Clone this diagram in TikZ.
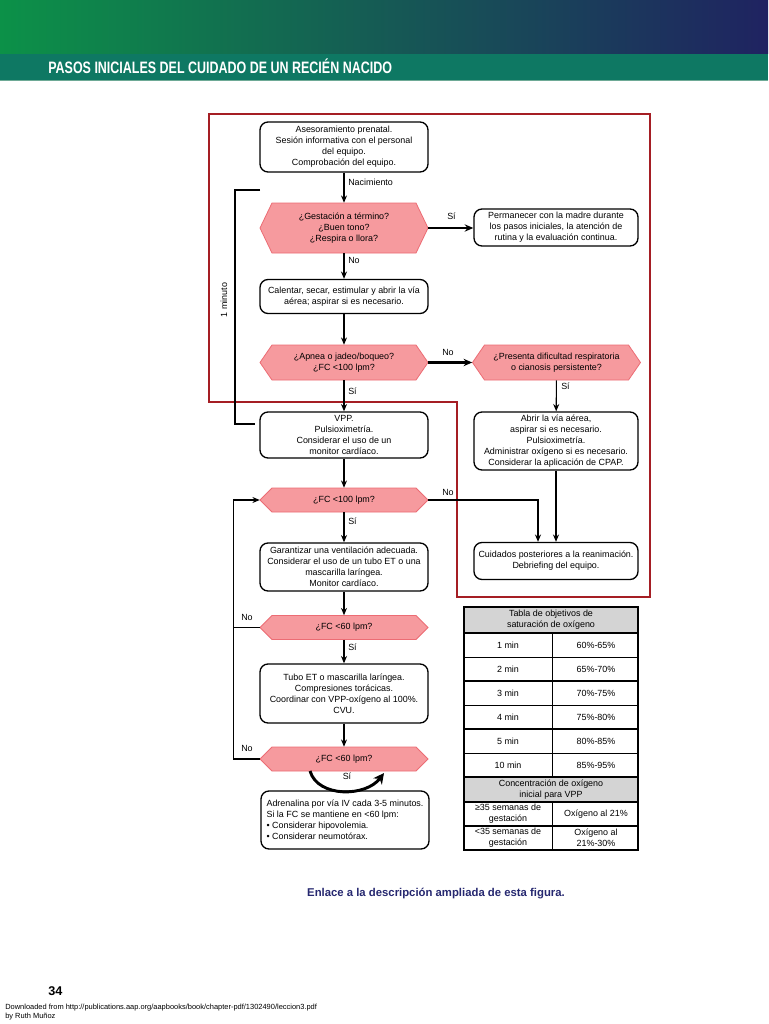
\documentclass[tikz,border=0pt]{standalone}
\usepackage{fontspec}
\setmainfont{Liberation Sans}
\usetikzlibrary{arrows.meta,calc}
\definecolor{hgL}{RGB}{12,145,72}
\definecolor{hgM}{RGB}{28,100,92}
\definecolor{hgR}{RGB}{31,35,97}
\definecolor{tealband}{RGB}{14,120,99}
\definecolor{teallight}{RGB}{110,170,150}
\definecolor{frame}{RGB}{165,30,36}
\definecolor{hexfill}{RGB}{246,154,158}
\definecolor{hexline}{RGB}{236,108,116}
\definecolor{tgray}{RGB}{212,212,212}
\definecolor{navy}{RGB}{38,40,112}
\newcommand{\ff}{\fontsize{6.7}{8.25}\selectfont}
\newcommand{\hexa}[6]{%
  \filldraw[fill=hexfill, draw=hexline, line width=0.6pt]
    (#2-#4/2,#3) -- (#2-#4/2+12,#3-#5/2) -- (#2+#4/2-12,#3-#5/2) -- (#2+#4/2,#3)
    -- (#2+#4/2-12,#3+#5/2) -- (#2-#4/2+12,#3+#5/2) -- cycle;
  \node[hexlabel, minimum width=#4*0.75pt, minimum height=#5*0.75pt] (#1) at (#2,#3) {#6};}
\begin{document}
\begin{tikzpicture}[x=0.75pt,y=-0.75pt,
  box/.style={draw, rounded corners=6pt, line width=1pt, align=center, font=\ff, inner sep=1pt},
  hexlabel/.style={draw=none, align=center, font=\ff, inner sep=0pt},
  arr/.style={line width=0.8pt, -{Stealth[length=5.5pt,width=4.5pt]}},
  thickarr/.style={line width=1.7pt, -{Stealth[length=6.5pt,width=5.5pt]}},
  plain/.style={line width=0.8pt},
  lbl/.style={font=\ff, inner sep=0pt},
  tcell/.style={font=\ff, align=center, inner sep=0pt}]
\useasboundingbox (0,0) rectangle (768,1024);
\fill[white] (0,0) rectangle (768,1024);
% header
\shade[left color=hgL, middle color=hgM, right color=hgR] (0,0) rectangle (768,54);
\fill[tealband] (0,54) rectangle (768,80);
\fill[teallight] (0,80) rectangle (768,81.5);
\node[anchor=base west, text=white, inner sep=0pt, font=\fontsize{12.4}{14}\selectfont\bfseries] (title) at (48,74) {\scalebox{0.755}[1]{PASOS INICIALES DEL CUIDADO DE UN RECIÉN NACIDO}};
% red frame
\draw[frame, line width=1.9pt] (209,114) -- (650,114) -- (650,597) -- (457,597) -- (457,402) -- (209,402) -- cycle;
% boxes
\node[box, minimum width=126pt, minimum height=37.5pt] (b1) at (344,147) {Asesoramiento prenatal.\\Sesión informativa con el personal\\del equipo.\\Comprobación del equipo.};
\hexa{d1}{344}{228}{168}{50}{¿Gestación a término?\\¿Buen tono?\\¿Respira o llora?}
\node[box, minimum width=123pt, minimum height=27.75pt] (perm) at (556,227.5) {Permanecer con la madre durante\\los pasos iniciales, la atención de\\rutina y la evaluación continua.};
\node[box, minimum width=126pt, minimum height=25.5pt] (cal) at (344,296.5) {Calentar, secar, estimular y abrir la vía\\aérea; aspirar si es necesario.};
\hexa{apn}{344}{362.5}{168}{35}{¿Apnea o jadeo/boqueo?\\¿FC <100 lpm?}
\hexa{pres}{556.5}{362.5}{168}{35}{¿Presenta dificultad respiratoria\\o cianosis persistente?}
\node[box, minimum width=126pt, minimum height=34.5pt] (vpp) at (344,435) {VPP.\\Pulsioximetría.\\Considerar el uso de un\\monitor cardíaco.};
\node[box, minimum width=123pt, minimum height=43.5pt] (abr) at (556,441) {Abrir la vía aérea,\\aspirar si es necesario.\\Pulsioximetría.\\Administrar oxígeno si es necesario.\\Considerar la aplicación de CPAP.};
\hexa{fc1}{344}{500}{168}{24}{¿FC <100 lpm?}
\node[box, minimum width=126pt, minimum height=36pt] (gar) at (344,567) {Garantizar una ventilación adecuada.\\Considerar el uso de un tubo ET o una\\mascarilla laríngea.\\Monitor cardíaco.};
\node[box, minimum width=123pt, minimum height=27.75pt] (cui) at (556,561) {Cuidados posteriores a la reanimación.\\Debriefing del equipo.};
\hexa{fc2}{344}{627.5}{168}{24}{¿FC <60 lpm?}
\node[box, minimum width=126pt, minimum height=44.25pt] (tub) at (344,693.5) {Tubo ET o mascarilla laríngea.\\Compresiones torácicas.\\Coordinar con VPP-oxígeno al 100\%.\\CVU.};
\hexa{fc3}{344}{759}{168}{24}{¿FC <60 lpm?}
\node[box, align=left, minimum width=126pt, minimum height=43.5pt] (adr) at (345,820) {Adrenalina por vía IV cada 3-5 minutos.\\Si la FC se mantiene en <60 lpm:\\• Considerar hipovolemia.\\• Considerar neumotórax.};
% connectors
\draw[arr] (b1) -- (d1);
\draw[thickarr] (d1.east) -- (d1.east -| perm.west);
\draw[arr] (d1) -- (cal);
\draw[arr] (cal) -- (apn);
\draw[thickarr] (apn.east) -- (pres.west);
\draw[arr] (apn) -- (vpp);
\draw[arr] (pres) -- (abr);
\draw[arr] (vpp) -- (fc1);
\draw[arr] (fc1.east) -| ($(cui.north)+(-18,0)$);
\draw[arr] (abr) -- (cui);
\draw[arr] (fc1) -- (gar);
\draw[arr] (gar) -- (fc2);
\draw[arr] (fc2) -- (tub);
\draw[arr] (tub) -- (fc3);
\draw[plain] (fc2.west) -- ++(-26,0);
\draw[arr] (fc3.west) -- ++(-26,0) |- (fc1.west);
\coordinate (lt) at (260,190);
\draw[plain] (lt) -- ++(-25,0) |- ($(vpp.west)+(-4,-11)$);
\draw[line width=1.1pt] ($(vpp.west)+(-25,-11)$) -- ($(vpp.west)+(-4,-11)$);
\coordinate (ca) at (310,771);
\coordinate (cb) at (384,773);
\draw[line width=2.2pt, -{Stealth[length=8pt,width=8pt]}] (ca) .. controls (318,798) and (366,797) .. (cb);
% labels
\node[lbl, anchor=west] (lnac) at (348,182) {Nacimiento};
\node[lbl, anchor=west] (ls1) at (447,216) {Sí};
\node[lbl, anchor=west] (ln1) at (348,260) {No};
\node[lbl, anchor=west] (ln2) at (442,352) {No};
\node[lbl, anchor=west] (ls2) at (348,391) {Sí};
\node[lbl, anchor=west] (ls3) at (561,386) {Sí};
\node[lbl, anchor=west] (ln3) at (442,492) {No};
\node[lbl, anchor=west] (ls4) at (348,521) {Sí};
\node[lbl, anchor=west] (ln4) at (241,617) {No};
\node[lbl, anchor=west] (ls5) at (348,647) {Sí};
\node[lbl, anchor=west] (ln5) at (241,748) {No};
\node[lbl] (ls6) at (347,776) {Sí};
\node[lbl, rotate=90] (lmin) at (224,300) {1 minuto};
% table
\fill[tgray] (464,607) rectangle (638,633);
\fill[tgray] (464,777) rectangle (638,802);
\foreach \yy in {657,705,753} \draw[line width=0.5pt] (464,\yy) -- (638,\yy);
\foreach \yy in {633,681,729,777,802,826} \draw[line width=1pt] (464,\yy) -- (638,\yy);
\draw[line width=0.6pt] (552,633) -- (552,777);
\draw[line width=0.6pt] (552,802) -- (552,850);
\draw[line width=1pt] (464,607) rectangle (638,850);
\node[tcell] (th1) at (551,620) {Tabla de objetivos de\\saturación de oxígeno};
\node[tcell] (r1a) at (508,645) {1 min};
\node[tcell] (r1b) at (596,645) {60\%-65\%};
\node[tcell] (r2a) at (508,669) {2 min};
\node[tcell] (r2b) at (596,669) {65\%-70\%};
\node[tcell] (r3a) at (508,693) {3 min};
\node[tcell] (r3b) at (596,693) {70\%-75\%};
\node[tcell] (r4a) at (508,717) {4 min};
\node[tcell] (r4b) at (596,717) {75\%-80\%};
\node[tcell] (r5a) at (508,741) {5 min};
\node[tcell] (r5b) at (596,741) {80\%-85\%};
\node[tcell] (r6a) at (508,765) {10 min};
\node[tcell] (r6b) at (596,765) {85\%-95\%};
\node[tcell] (th2) at (551,789.5) {Concentración de oxígeno\\inicial para VPP};
\node[tcell] (r7a) at (508,814) {≥35 semanas de\\gestación};
\node[tcell] (r7b) at (596,814) {Oxígeno al 21\%};
\node[tcell] (r8a) at (508,838) {<35 semanas de\\gestación};
\node[tcell] (r8b) at (596,838) {Oxígeno al\\21\%-30\%};
% footer
\node[text=navy, inner sep=0pt, font=\fontsize{8.5}{10}\selectfont\bfseries] (link) at (436,894) {Enlace a la descripción ampliada de esta figura.};
\node[anchor=base west, inner sep=0pt, font=\fontsize{9.5}{11}\selectfont\bfseries] (pg) at (48,995) {34};
\node[anchor=north west, inner sep=0pt, align=left, font=\fontsize{5.6}{6.8}\selectfont] (dl) at (5,1004) {Downloaded from http://publications.aap.org/aapbooks/book/chapter-pdf/1302490/leccion3.pdf\\by Ruth Muñoz};
\end{tikzpicture}
\end{document}
